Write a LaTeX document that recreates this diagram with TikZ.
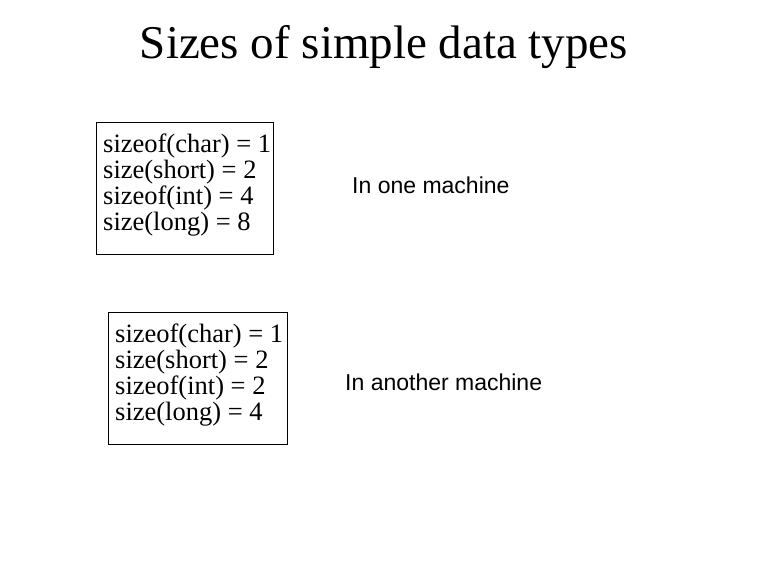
\documentclass[tikz,border=0pt]{standalone}
\usepackage{fontspec}
\setmainfont{Liberation Serif}
\newfontfamily\labelfont{Liberation Sans}
\begin{document}
\begin{tikzpicture}[x=1pt,y=-1pt,
  boxtext/.style={anchor=north west,align=left,inner sep=0pt,font=\fontsize{26.5}{25.8}\selectfont},
  frame/.style={draw=black,line width=0.8pt},
  lbl/.style={anchor=west,inner sep=0pt,font=\labelfont\fontsize{23}{26}\selectfont}]
\useasboundingbox (0,0) rectangle (768,576);
\node[font=\fontsize{47}{52}\selectfont] (title) at (384,47) {Sizes of simple data types};
\draw[frame] (96,122) rectangle (273,254);
\node[boxtext] (b1) at (103,134) {sizeof(char) = 1\\size(short) = 2\\sizeof(int) = 4\\size(long) = 8};
\draw[frame] (108,312) rectangle (287,444);
\node[boxtext] (b2) at (115,324) {sizeof(char) = 1\\size(short) = 2\\sizeof(int) = 2\\size(long) = 4};
\node[lbl] (l1) at (352,185) {In one machine};
\node[lbl] (l2) at (345,382) {In another machine};
\end{tikzpicture}
\end{document}
